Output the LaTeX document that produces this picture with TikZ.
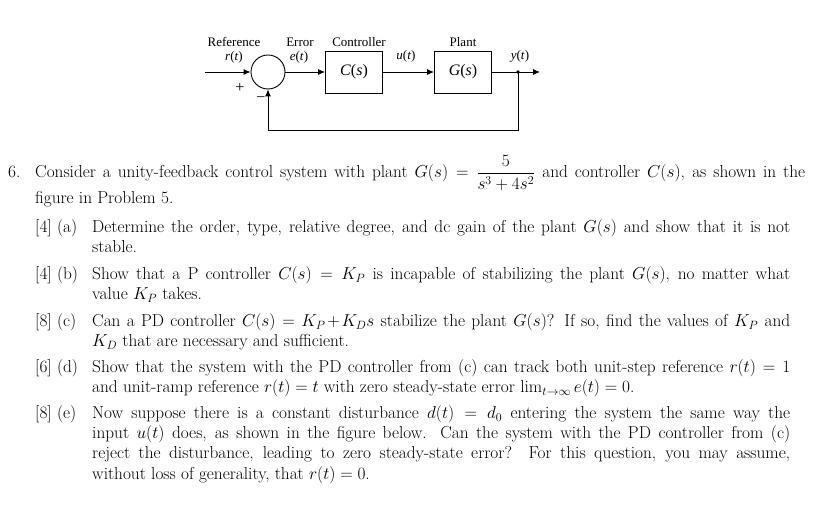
\documentclass[tikz,border=0pt]{standalone}
\usepackage{amsmath}
\usepackage{fontspec}
\newfontfamily\tnr{Liberation Serif}
\usetikzlibrary{arrows.meta}
\newcommand{\jl}[2]{\hbox to #1{#2}}
\begin{document}
\begin{tikzpicture}[x=1pt,y=-1pt,
  blk/.style={draw,line width=0.9pt,minimum width=57pt,minimum height=42pt,font=\tnr\fontsize{16}{16}\selectfont},
  lab/.style={font=\tnr\fontsize{13}{13}\selectfont,inner sep=0pt},
  sig/.style={line width=0.9pt,-{Latex[length=7pt,width=6pt]}},
  ln/.style={line width=0.9pt},
  tx/.style={anchor=base west,inner sep=0pt,font=\fontsize{17.3}{19}\selectfont}]
\useasboundingbox (0,0) rectangle (825,510);
\node[draw,circle,line width=0.9pt,minimum size=34pt,inner sep=0pt] (sum) at (268,72) {};
\node[blk] (C) at (354,72) {\textit{C}(\textit{s})};
\node[blk] (G) at (463,72) {\textit{G}(\textit{s})};
\coordinate (in) at (205,72);
\coordinate (br) at (518,72);
\coordinate (out) at (540,72);
\coordinate (fb) at (518,130);
\coordinate (fb2) at (268,130);
\draw[sig] (in) -- (sum);
\draw[sig] (sum) -- (C);
\draw[sig] (C) -- (G);
\draw[sig] (G) -- (out);
\fill (br) circle (1.8pt);
\draw[ln] (br) -- (fb) -- (fb2);
\draw[sig] (fb2) -- (sum);
\node[lab] (l1) at (234,42) {Reference};
\node[lab] (l2) at (234,57) {\textit{r}(\textit{t})};
\node[lab] (l3) at (300,42) {Error};
\node[lab] (l4) at (299,57) {\textit{e}(\textit{t})};
\node[lab] (l5) at (359,42) {Controller};
\node[lab] (l6) at (406,56) {\textit{u}(\textit{t})};
\node[lab] (l7) at (463,42) {Plant};
\node[lab] (l8) at (520,56) {\textit{y}(\textit{t})};
\node[lab,font=\tnr\fontsize{16}{16}\selectfont] (p) at (240,88) {+};
\node[lab,font=\tnr\fontsize{16}{16}\selectfont] (m) at (261,100) {\textminus};
\node[tx] (n6) at (8,178) {6.};
\node[tx] (t1) at (35,178) {\jl{770pt}{Consider a unity-feedback control system with plant $G(s)=\dfrac{5}{s^3+4s^2}$ and controller $C(s)$, as shown in the}};
\node[tx] (t2) at (35,204) {figure in Problem 5.};
\node[tx] (a0) at (35,233) {[4]\ (a)};
\node[tx] (a1) at (92,233) {\jl{698pt}{Determine the order, type, relative degree, and dc gain of the plant $G(s)$ and show that it is not}};
\node[tx] (a2) at (92,253) {stable.};
\node[tx] (b0) at (35,280) {[4]\ (b)};
\node[tx] (b1) at (92,280) {\jl{698pt}{Show that a P controller $C(s)=K_P$ is incapable of stabilizing the plant $G(s)$, no matter what}};
\node[tx] (b2) at (92,300) {value $K_P$ takes.};
\node[tx] (c0) at (35,327) {[8]\ (c)};
\node[tx] (c1) at (92,327) {\jl{698pt}{Can a PD controller $C(s)=K_P\!+\!K_Ds$ stabilize the plant $G(s)$? If so, find the values of $K_P$ and}};
\node[tx] (c2) at (92,347) {$K_D$ that are necessary and sufficient.};
\node[tx] (d0) at (35,373) {[6]\ (d)};
\node[tx] (d1) at (92,373) {\jl{698pt}{Show that the system with the PD controller from (c) can track both unit-step reference $r(t)=1$}};
\node[tx] (d2) at (92,393) {and unit-ramp reference $r(t)=t$ with zero steady-state error $\lim_{t\to\infty}e(t)=0$.};
\node[tx] (e0) at (35,419) {[8]\ (e)};
\node[tx] (e1) at (92,419) {\jl{698pt}{Now suppose there is a constant disturbance $d(t)=d_0$ entering the system the same way the}};
\node[tx] (e2) at (92,439) {\jl{698pt}{input $u(t)$ does, as shown in the figure below. Can the system with the PD controller from (c)}};
\node[tx] (e3) at (92,459) {\jl{698pt}{reject the disturbance, leading to zero steady-state error? For this question, you may assume,}};
\node[tx] (e4) at (92,479) {without loss of generality, that $r(t)=0$.};
\end{tikzpicture}
\end{document}
